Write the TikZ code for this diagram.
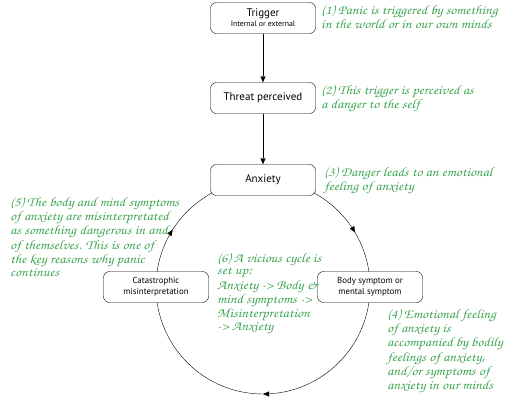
\documentclass[tikz,border=0pt]{standalone}
\usepackage[T1,TU]{fontenc}
\usepackage{fontspec}
\setsansfont{PT Sans}
\usepackage{tikz}
\usetikzlibrary{arrows.meta,decorations.markings,backgrounds}
\definecolor{hgreen}{RGB}{60,165,80}
\newcommand{\handfont}{\fontencoding{T1}\fontfamily{pzc}\fontseries{m}\fontshape{it}\fontsize{13}{11.6}\selectfont}
\tikzset{box/.style = {draw, rounded corners=6pt, fill=white, minimum width=105pt, minimum height=31pt, align=center, inner sep=1pt, font=\sffamily\fontsize{11}{12}\selectfont},
  smallbox/.style = {box, font=\sffamily\fontsize{8.8}{11}\selectfont},
  note/.style = {hgreen, anchor=north west, align=left, inner sep=0pt, font=\handfont, xscale=1.13, transform shape},
  tip/.style = {-{Triangle[length=6pt,width=5pt]}},
  midtip/.style = {decoration={markings, mark=at position #1 with {\arrow{Triangle[length=6pt,width=5pt]}}}, postaction={decorate}}}

\begin{document}
\begin{tikzpicture}[x=1pt,y=-1pt]
      \useasboundingbox (0,0) rectangle (505,400);
      \node [box] (trig) at (263,18) {Trigger\\[-2pt]{\fontsize{7.8}{9}\selectfont Internal or external}};
      \node [box] (threat) at (263,98) {Threat perceived};
      \node [box] (anx) at (263,180) {Anxiety};
      \node [smallbox] (body) at (370,287) {Body symptom or\\mental symptom};
      \node [smallbox] (cat) at (156,287) {Catastrophic\\misinterpretation};
      \draw [tip] (trig) -- (threat);
      \draw [tip] (threat) -- (anx);
      \begin{scope}[on background layer]
        \draw [midtip=0.66] (anx.center) arc [start angle=-90, end angle=0, radius=107];
        \draw [midtip=0.5] (body.center) arc [start angle=0, end angle=180, radius=107];
        \draw [midtip=0.36] (cat.center) arc [start angle=180, end angle=270, radius=107];
      \end{scope}
      \node [note] (n1) at (321,5) {(1) Panic is triggered by something\\in the world or in our own minds};
      \node [note] (n2) at (321,85) {(2) This trigger is perceived as\\a danger to the self};
      \node [note] (n3) at (324,167) {(3) Danger leads to an emotional\\feeling of anxiety};
      \node [note] (n5) at (10,197) {(5) The body and mind symptoms\\of anxiety are misinterpretated\\as something dangerous in and\\of themselves. This is one of\\the key reasons why panic\\continues};
      \node [note] (n6) at (217,253) {(6) A vicious cycle is\\set up:\\[1pt]Anxiety -> Body \&\\mind symptoms ->\\Misinterpretation\\-> Anxiety};
      \node [note] (n4) at (387,309) {(4) Emotional feeling\\of anxiety is\\accompanied by bodily\\feelings of anxiety,\\and/or symptoms of\\anxiety in our minds};
    \end{tikzpicture}
\end{document}
